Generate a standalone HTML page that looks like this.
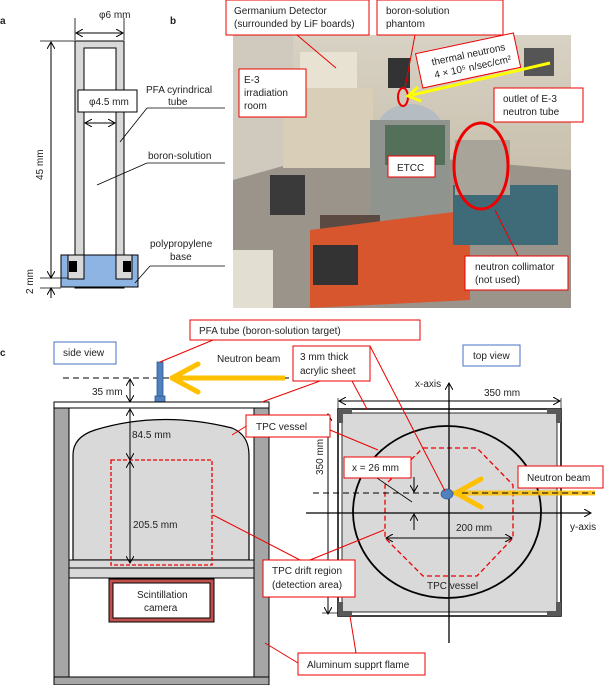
<!DOCTYPE html>
<html><head><meta charset="utf-8"><style>
html,body{margin:0;padding:0;background:#fff;}
svg{display:block;font-family:"Liberation Sans",sans-serif;}
text{font-size:10px;fill:#222;}
</style></head><body>
<svg width="604" height="685" viewBox="0 0 604 685" xmlns="http://www.w3.org/2000/svg">
<defs>
<marker id="a" markerWidth="8" markerHeight="8" refX="7" refY="4" orient="auto-start-reverse" markerUnits="userSpaceOnUse"><path d="M0,0 L7,4 L0,8" fill="none" stroke="#000" stroke-width="1"/></marker>
<linearGradient id="wall" x1="0" y1="0" x2="0" y2="1"><stop offset="0" stop-color="#d8d2c4"/><stop offset="0.5" stop-color="#c9c0ae"/><stop offset="1" stop-color="#bdb6a8"/></linearGradient>
</defs>
<text x="0" y="24" font-weight="bold" font-size="10">a</text>
<text x="170" y="24" font-weight="bold" font-size="10">b</text>
<text x="0" y="356" font-weight="bold" font-size="10">c</text>
<!-- panel a -->
<text x="99" y="18">φ6 mm</text>
<line x1="75" y1="18" x2="75" y2="40" stroke="#000" stroke-width="0.8"/>
<line x1="124" y1="18" x2="124" y2="40" stroke="#000" stroke-width="0.8"/>
<line x1="76" y1="33" x2="123" y2="33" stroke="#000" marker-start="url(#a)" marker-end="url(#a)"/>
<rect x="75" y="41" width="49" height="247" fill="#d9d9d9" stroke="#000"/>
<rect x="84" y="48" width="32" height="231" fill="#fff" stroke="#000"/>
<path d="M61,255 H138 V287 H61 Z" fill="#8eb4e3" stroke="#000"/>
<rect x="68" y="255" width="16" height="24" fill="#d9d9d9" stroke="#000"/>
<rect x="116" y="255" width="16" height="24" fill="#d9d9d9" stroke="#000"/>
<rect x="69" y="261" width="8" height="11" fill="#000"/>
<rect x="123" y="261" width="8" height="11" fill="#000"/>
<rect x="78" y="90" width="59" height="22" fill="#fff" stroke="#000"/>
<text x="89" y="105">φ4.5 mm</text>
<line x1="85" y1="123" x2="115" y2="123" stroke="#000" marker-start="url(#a)" marker-end="url(#a)"/>
<line x1="40" y1="41" x2="75" y2="41" stroke="#000" stroke-width="0.8"/>
<line x1="51" y1="42" x2="51" y2="278" stroke="#000" marker-start="url(#a)" marker-end="url(#a)"/>
<line x1="40" y1="278" x2="68" y2="278" stroke="#000" stroke-width="0.8"/>
<line x1="40" y1="288" x2="61" y2="288" stroke="#000" stroke-width="0.8"/>
<line x1="51" y1="288" x2="51" y2="298" stroke="#000" marker-start="url(#a)"/>
<text transform="translate(43,180) rotate(-90)">45 mm</text>
<text transform="translate(33,294) rotate(-90)">2 mm</text>
<text x="146" y="93">PFA cyrindrical</text>
<text x="168" y="105">tube</text>
<line x1="120" y1="142" x2="147" y2="108" stroke="#000" stroke-width="0.8"/><line x1="147" y1="108" x2="225" y2="108" stroke="#000" stroke-width="0.8"/>
<text x="148" y="159">boron-solution</text>
<line x1="97" y1="185" x2="147" y2="163" stroke="#000" stroke-width="0.8"/><line x1="147" y1="163" x2="225" y2="163" stroke="#000" stroke-width="0.8"/>
<text x="150" y="247">polypropylene</text>
<text x="170" y="260">base</text>
<line x1="135" y1="283" x2="150" y2="266" stroke="#000" stroke-width="0.8"/><line x1="150" y1="266" x2="225" y2="266" stroke="#000" stroke-width="0.8"/>

<!-- panel b photo -->
<rect x="233" y="35" width="338" height="273" fill="url(#wall)"/>
<rect x="233" y="35" width="60" height="273" fill="#cfcabd"/>
<path d="M233,180 L340,150 L571,170 L571,308 L233,308Z" fill="#9a948a"/>
<rect x="300" y="52" width="57" height="45" fill="#e8e2d2"/>
<rect x="283" y="88" width="90" height="80" fill="#d9cfb8"/>
<rect x="524" y="48" width="30" height="28" fill="#555"/>
<rect x="388" y="58" width="22" height="30" fill="#333"/>
<ellipse cx="410" cy="130" rx="33" ry="26" fill="#b5bcc2"/>
<rect x="370" y="120" width="80" height="110" fill="#8f948e"/>
<rect x="385" y="125" width="60" height="40" fill="#55705a"/>
<rect x="320" y="215" width="60" height="85" fill="#5a4a42"/>
<path d="M310,230 L470,210 L470,300 L310,308Z" fill="#d8562e"/>
<rect x="313" y="245" width="45" height="40" fill="#333"/>
<rect x="453" y="185" width="105" height="60" fill="#3f6a78"/>
<rect x="455" y="140" width="55" height="55" fill="#a8a49a"/>
<rect x="233" y="250" width="40" height="58" fill="#e2ded2"/>
<rect x="270" y="175" width="35" height="40" fill="#3a3a3a"/>
<ellipse cx="481" cy="166" rx="27" ry="43" fill="none" stroke="#e00" stroke-width="3"/>
<ellipse cx="403" cy="97" rx="5" ry="9" fill="none" stroke="#e00" stroke-width="2"/>
<line x1="550" y1="63" x2="412" y2="95" stroke="#ff0" stroke-width="3"/>
<path d="M418,87 L408,96 L421,101" fill="none" stroke="#ff0" stroke-width="3"/>
<g stroke="#e00" fill="#fff" stroke-width="1">
<rect x="226" y="0" width="143" height="35"/>
<rect x="377" y="0" width="126" height="35"/>
<rect x="239" y="69" width="67" height="48"/>
<rect x="494" y="88" width="89" height="34"/>
<rect x="388" y="156" width="47" height="21"/>
<rect x="465" y="256" width="103" height="34"/>
<rect x="418" y="43" width="100" height="35" transform="rotate(-12 468 60)"/>
</g>
<g stroke="#e00" stroke-width="1">
<line x1="297" y1="35" x2="336" y2="68"/><line x1="415" y1="35" x2="405" y2="88"/><line x1="495" y1="210" x2="518" y2="256"/>
</g>
<text x="234" y="14">Germanium Detector</text><text x="234" y="27">(surrounded by LiF boards)</text>
<text x="386" y="14">boron-solution</text><text x="386" y="27">phantom</text>
<text x="244" y="83">E-3</text><text x="244" y="96">irradiation</text><text x="244" y="109">room</text>
<text x="503" y="102">outlet of E-3</text><text x="503" y="115">neutron tube</text>
<text x="397" y="171">ETCC</text>
<text x="475" y="270">neutron collimator</text><text x="475" y="283">(not used)</text>
<g transform="rotate(-12 468 60)"><text x="432" y="58">thermal neutrons</text><text x="432" y="71">4 × 10⁵ n/sec/cm²</text></g>

<!-- panel c side view -->
<rect x="54" y="342" width="62" height="22" fill="#fff" stroke="#4472c4"/>
<text x="63" y="356">side view</text>
<text x="217" y="362">Neutron beam</text>
<line x1="63" y1="378" x2="290" y2="378" stroke="#000" stroke-dasharray="6,4"/>
<line x1="285" y1="378" x2="175" y2="378" stroke="#ffc000" stroke-width="5"/>
<path d="M198,364 L172,378 L198,392" fill="none" stroke="#ffc000" stroke-width="5" stroke-linecap="round" stroke-linejoin="round"/>
<rect x="157" y="362" width="6" height="36" fill="#4f81bd" stroke="#2f5597" stroke-width="0.8"/>
<rect x="155" y="396" width="10" height="7" fill="#4f81bd" stroke="#2f5597" stroke-width="0.8"/>
<text x="92" y="395">35 mm</text>
<line x1="130" y1="379" x2="130" y2="402" stroke="#000" marker-start="url(#a)" marker-end="url(#a)"/>
<rect x="54" y="402" width="215" height="6" fill="#fff" stroke="#000"/>
<rect x="54" y="408" width="15" height="270" fill="#a6a6a6" stroke="#000"/>
<rect x="254" y="408" width="15" height="270" fill="#a6a6a6" stroke="#000"/>
<rect x="54" y="677" width="215" height="8" fill="#a6a6a6" stroke="#000"/>
<path d="M73,560 V455 Q73,437 95,430 Q160,410 232,428 Q249,435 249,455 V560 Z" fill="#d9d9d9" stroke="#000" stroke-width="1.2"/>
<rect x="69" y="560" width="185" height="8" fill="#d9d9d9" stroke="#000"/>
<rect x="69" y="568" width="185" height="10" fill="#d9d9d9" stroke="#000"/>
<rect x="111" y="460" width="101" height="105" fill="none" stroke="#e00" stroke-width="1.3" stroke-dasharray="4,2"/>
<line x1="130" y1="409" x2="130" y2="460" stroke="#000" marker-start="url(#a)" marker-end="url(#a)"/>
<line x1="130" y1="461" x2="130" y2="563" stroke="#000" marker-start="url(#a)" marker-end="url(#a)"/>
<text x="132" y="438">84.5 mm</text>
<text x="133" y="528">205.5 mm</text>
<rect x="109" y="579" width="105" height="43" fill="#c0504d" stroke="#000"/>
<rect x="113" y="583" width="97" height="35" fill="#fff" stroke="#000"/>
<text x="137" y="598">Scintillation</text><text x="144" y="611">camera</text>

<!-- top view -->
<rect x="463" y="345" width="57" height="21" fill="#fff" stroke="#4472c4"/>
<text x="473" y="359">top view</text>
<rect x="338" y="409" width="223" height="207" fill="#fff" stroke="#000" stroke-width="1.5"/>
<rect x="342" y="413" width="215" height="199" fill="#d9d9d9" stroke="#000" stroke-width="0.8"/>
<g fill="#595959"><rect x="338" y="409" width="14" height="5"/><rect x="338" y="409" width="5" height="14"/><rect x="547" y="409" width="14" height="5"/><rect x="556" y="409" width="5" height="14"/><rect x="338" y="611" width="14" height="5"/><rect x="338" y="602" width="5" height="14"/><rect x="547" y="611" width="14" height="5"/><rect x="556" y="602" width="5" height="14"/></g>
<ellipse cx="447" cy="512" rx="94" ry="86" fill="none" stroke="#000" stroke-width="1.8"/>
<polygon points="423,448 477,448 513,485 513,538 477,576 423,576 385,538 385,485" fill="none" stroke="#e00" stroke-width="1.3" stroke-dasharray="5,3"/>
<line x1="449" y1="643" x2="449" y2="383" stroke="#000" stroke-width="1.3" marker-end="url(#a)"/>
<line x1="306" y1="513" x2="591" y2="513" stroke="#000" stroke-width="1.3" marker-end="url(#a)"/>
<text x="415" y="387">x-axis</text>
<text x="570" y="530">y-axis</text>
<line x1="313" y1="493" x2="595" y2="493" stroke="#000" stroke-dasharray="6,4"/>
<line x1="452" y1="493" x2="595" y2="493" stroke="#ffc000" stroke-width="5" opacity="0.85"/>
<line x1="452" y1="493" x2="595" y2="493" stroke="#000" stroke-dasharray="6,4"/>
<path d="M481,479 L456,493 L481,507" fill="none" stroke="#ffc000" stroke-width="5" stroke-linecap="round" stroke-linejoin="round"/>
<ellipse cx="447" cy="494" rx="6" ry="5" fill="#4f81bd" stroke="#2f5597" stroke-width="0.7"/>
<text x="484" y="396">350 mm</text>
<line x1="339" y1="401" x2="560" y2="401" stroke="#000" marker-start="url(#a)" marker-end="url(#a)"/>
<line x1="338" y1="398" x2="338" y2="409" stroke="#000" stroke-width="0.7"/><line x1="561" y1="398" x2="561" y2="409" stroke="#000" stroke-width="0.7"/>
<line x1="328" y1="414" x2="328" y2="614" stroke="#000" marker-start="url(#a)" marker-end="url(#a)"/>
<line x1="322" y1="613" x2="338" y2="613" stroke="#000" stroke-width="0.7"/>
<text transform="translate(323,475) rotate(-90)">350 mm</text>
<line x1="414" y1="477" x2="414" y2="492" stroke="#000" marker-end="url(#a)"/>
<line x1="414" y1="530" x2="414" y2="514" stroke="#000" marker-end="url(#a)"/>
<line x1="377" y1="478" x2="412" y2="502" stroke="#000" stroke-width="0.8"/>
<line x1="386" y1="538" x2="512" y2="538" stroke="#000" marker-start="url(#a)" marker-end="url(#a)"/>
<text x="456" y="531">200 mm</text>
<text x="427" y="589">TPC vessel</text>

<!-- red leader lines -->
<g stroke="#e00"><line x1="160" y1="362" x2="213" y2="340"/><line x1="262" y1="402" x2="320" y2="381"/><line x1="232" y1="435" x2="248" y2="425"/><line x1="213" y1="515" x2="300" y2="560"/><line x1="265" y1="643" x2="298" y2="663"/>
<line x1="370" y1="346" x2="445" y2="491"/><line x1="352" y1="381" x2="367" y2="409"/><line x1="318" y1="425" x2="378" y2="450"/><line x1="310" y1="560" x2="384" y2="530"/><line x1="350" y1="616" x2="356" y2="653"/></g>

<!-- label boxes on top -->
<rect x="190" y="320" width="230" height="20" fill="#fff" stroke="#e00"/>
<text x="199" y="334">PFA tube (boron-solution target)</text>
<rect x="293" y="346" width="77" height="35" fill="#fff" stroke="#e00"/>
<text x="300" y="360">3 mm thick</text><text x="300" y="374">acrylic sheet</text>
<rect x="246" y="415" width="84" height="22" fill="#fff" stroke="#e00"/>
<text x="256" y="430">TPC vessel</text>
<rect x="263" y="560" width="92" height="37" fill="#fff" stroke="#e00"/>
<text x="272" y="574">TPC drift region</text><text x="272" y="588">(detection area)</text>
<rect x="298" y="653" width="127" height="22" fill="#fff" stroke="#e00"/>
<text x="307" y="668">Aluminum supprt flame</text>
<rect x="344" y="457" width="67" height="21" fill="#fff" stroke="#e00"/>
<text x="352" y="471">x = 26 mm</text>
<rect x="518" y="466" width="85" height="22" fill="#fff" stroke="#e00"/>
<text x="527" y="481">Neutron beam</text>
</svg>
</body></html>
